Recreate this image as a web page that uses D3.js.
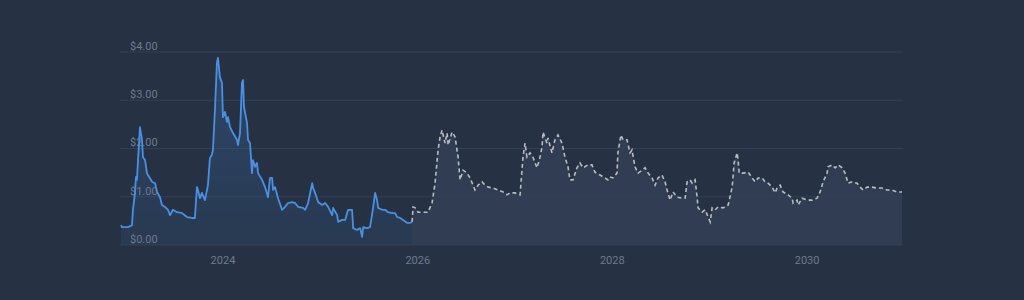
<!DOCTYPE html>
<html><head><meta charset="utf-8">
<script src="https://cdn.jsdelivr.net/npm/d3@7"></script>
<style>
html,body{margin:0;padding:0;background:#263244;}
svg{display:block;}
</style></head>
<body>
<svg id="chart" width="1024" height="300"></svg>
<script>
// Historical price (decimal year, USD)
const histYears = [2022.957,2022.967,2023.029,2023.070,2023.080,2023.101,2023.111,2023.121,2023.132,2023.152,2023.173,2023.183,2023.204,2023.224,2023.234,2023.276,2023.307,2023.327,2023.358,2023.378,2023.409,2023.440,2023.461,2023.491,2023.533,2023.584,2023.635,2023.687,2023.717,2023.738,2023.748,2023.769,2023.789,2023.820,2023.851,2023.871,2023.892,2023.902,2023.923,2023.943,2023.954,2023.974,2023.995,2024.005,2024.026,2024.046,2024.057,2024.077,2024.108,2024.149,2024.159,2024.180,2024.200,2024.211,2024.221,2024.252,2024.262,2024.283,2024.303,2024.313,2024.334,2024.354,2024.365,2024.406,2024.437,2024.467,2024.488,2024.509,2024.519,2024.539,2024.570,2024.611,2024.642,2024.673,2024.714,2024.745,2024.776,2024.827,2024.848,2024.878,2024.920,2024.930,2024.950,2024.981,2025.022,2025.053,2025.084,2025.125,2025.135,2025.176,2025.187,2025.228,2025.259,2025.289,2025.330,2025.341,2025.382,2025.413,2025.433,2025.444,2025.485,2025.515,2025.546,2025.567,2025.587,2025.598,2025.639,2025.670,2025.700,2025.741,2025.772,2025.793,2025.824,2025.854,2025.895,2025.926,2025.947];
const histValues = [0.41,0.37,0.37,0.41,0.73,1.08,1.41,1.35,1.76,2.44,2.18,1.82,1.76,1.49,1.45,1.31,1.28,1.10,0.99,0.83,0.79,0.73,0.62,0.73,0.68,0.66,0.58,0.56,0.56,1.20,1.14,0.97,1.08,0.93,1.24,1.80,1.87,1.97,2.80,3.77,3.88,3.48,3.36,2.65,2.76,2.55,2.65,2.45,2.32,2.18,2.07,2.32,3.36,3.42,2.86,2.53,2.18,2.11,1.49,1.76,1.62,1.70,1.49,1.35,1.20,0.99,1.39,1.39,1.14,1.20,0.97,0.73,0.79,0.87,0.89,0.87,0.79,0.77,0.73,0.87,1.28,1.18,1.08,0.89,0.83,0.87,0.79,0.62,0.77,0.62,0.48,0.52,0.52,0.73,0.73,0.35,0.31,0.35,0.17,0.37,0.35,0.37,0.77,1.08,0.93,0.77,0.73,0.73,0.68,0.66,0.66,0.58,0.56,0.52,0.46,0.46,0.48];

// Forecast price (decimal year, USD)
const fcYears = [2025.947,2025.957,2025.978,2026.009,2026.060,2026.111,2026.152,2026.183,2026.214,2026.235,2026.255,2026.286,2026.307,2026.317,2026.358,2026.389,2026.420,2026.440,2026.471,2026.512,2026.543,2026.574,2026.594,2026.625,2026.666,2026.697,2026.728,2026.779,2026.830,2026.882,2026.923,2026.954,2027.005,2027.057,2027.087,2027.108,2027.128,2027.159,2027.190,2027.231,2027.262,2027.283,2027.293,2027.334,2027.344,2027.385,2027.416,2027.447,2027.488,2027.519,2027.550,2027.570,2027.601,2027.642,2027.673,2027.704,2027.755,2027.796,2027.827,2027.879,2027.930,2027.961,2027.981,2028.012,2028.053,2028.063,2028.094,2028.115,2028.156,2028.187,2028.207,2028.238,2028.269,2028.310,2028.341,2028.372,2028.413,2028.444,2028.474,2028.515,2028.546,2028.567,2028.598,2028.628,2028.670,2028.721,2028.752,2028.772,2028.803,2028.824,2028.854,2028.875,2028.885,2028.926,2028.957,2028.988,2029.009,2029.029,2029.060,2029.091,2029.142,2029.194,2029.235,2029.255,2029.286,2029.296,2029.307,2029.348,2029.399,2029.440,2029.471,2029.502,2029.543,2029.573,2029.604,2029.646,2029.676,2029.697,2029.728,2029.758,2029.810,2029.851,2029.861,2029.902,2029.913,2029.954,2030.005,2030.057,2030.108,2030.139,2030.170,2030.211,2030.221,2030.262,2030.293,2030.324,2030.365,2030.396,2030.427,2030.468,2030.519,2030.550,2030.581,2030.622,2030.673,2030.724,2030.776,2030.827,2030.878,2030.930,2030.981];
const fcValues = [0.48,0.79,0.77,0.68,0.68,0.68,0.87,1.28,1.97,2.24,2.38,2.11,2.32,2.07,2.34,2.24,1.82,1.35,1.55,1.49,1.39,1.24,1.14,1.24,1.31,1.24,1.20,1.18,1.14,1.10,1.04,1.08,1.08,1.04,1.82,2.11,1.82,1.91,1.82,1.60,1.82,2.03,2.34,2.11,2.22,1.91,2.18,2.28,2.11,1.82,1.62,1.35,1.35,1.60,1.70,1.60,1.66,1.66,1.51,1.45,1.39,1.35,1.41,1.39,1.49,1.91,2.28,2.18,2.18,1.91,1.97,1.62,1.49,1.55,1.60,1.49,1.39,1.24,1.39,1.45,1.31,1.14,0.93,1.10,0.99,0.97,0.97,1.31,1.35,1.28,1.35,0.99,0.77,0.68,0.73,0.58,0.48,0.77,0.73,0.79,0.77,0.83,1.20,1.70,1.91,1.76,1.49,1.49,1.51,1.39,1.31,1.39,1.39,1.31,1.28,1.20,1.08,1.18,1.24,1.10,1.04,0.97,0.87,0.93,0.83,0.97,0.93,0.93,0.97,1.10,1.31,1.49,1.62,1.66,1.60,1.66,1.60,1.49,1.28,1.31,1.28,1.20,1.14,1.20,1.20,1.18,1.18,1.14,1.14,1.10,1.10];

const yTicks = [0, 1, 2, 3, 4];
const xTickYears = [2024, 2026, 2028, 2030];

function toDate(y){
  const yr = Math.floor(y);
  const start = Date.UTC(yr,0,1), end = Date.UTC(yr+1,0,1);
  return new Date(start + (y-yr)*(end-start));
}
const hist = histYears.map((t,i)=>({d:toDate(t), v:histValues[i]}));
const fc = fcYears.map((t,i)=>({d:toDate(t), v:fcValues[i]}));

const svg = d3.select("#chart");
const x = d3.scaleUtc()
  .domain([toDate(histYears[0]), toDate(fcYears[fcYears.length-1])])
  .range([121, 902]);
const y = d3.scaleLinear().domain([0,4]).range([245,52]);

const defs = svg.append("defs");
const g = defs.append("linearGradient").attr("id","hg").attr("x1",0).attr("y1",0).attr("x2",0).attr("y2",1);
g.append("stop").attr("offset","0%").attr("stop-color","#3f78c0").attr("stop-opacity",0.30);
g.append("stop").attr("offset","100%").attr("stop-color","#3f78c0").attr("stop-opacity",0.10);

// gridlines
svg.append("g").selectAll("line").data(yTicks).join("line")
  .attr("x1",120).attr("x2",903)
  .attr("y1",d=>y(d)).attr("y2",d=>y(d))
  .attr("stroke","#334055").attr("stroke-width",1);

const area = d3.area().x(d=>x(d.d)).y0(y(0)).y1(d=>y(d.v));
const line = d3.line().x(d=>x(d.d)).y(d=>y(d.v));

svg.append("path").datum(fc).attr("d",area).attr("fill","#334055").attr("fill-opacity",0.85);
svg.append("path").datum(hist).attr("d",area).attr("fill","url(#hg)");

// y labels
svg.append("g").selectAll("text").data(yTicks).join("text")
  .attr("x",130).attr("y",d=>y(d)-6).attr("dy","0.35em")
  .attr("fill","#6e7a8d").attr("font-family","Roboto, 'Open Sans', sans-serif").attr("font-size",11)
  .text(d=>"$"+d3.format(".2f")(d));

svg.append("path").datum(fc).attr("d",line).attr("fill","none")
  .attr("stroke","#b9bcc2").attr("stroke-width",1.6).attr("stroke-dasharray","4,3");
svg.append("path").datum(hist).attr("d",line).attr("fill","none")
  .attr("stroke","#4a90e2").attr("stroke-width",1.8).attr("stroke-linejoin","round");

// x axis
const xAxis = d3.axisBottom(x).tickValues(xTickYears.map(v=>new Date(Date.UTC(v,0,1))))
  .tickFormat(d3.utcFormat("%Y")).tickSize(0);
const ax = svg.append("g").attr("transform","translate(0,253)").call(xAxis);
ax.select(".domain").remove();
ax.selectAll("text").attr("fill","#6e7a8d").attr("font-family","Roboto, 'Open Sans', sans-serif").attr("font-size",11);
</script>
</body></html>
